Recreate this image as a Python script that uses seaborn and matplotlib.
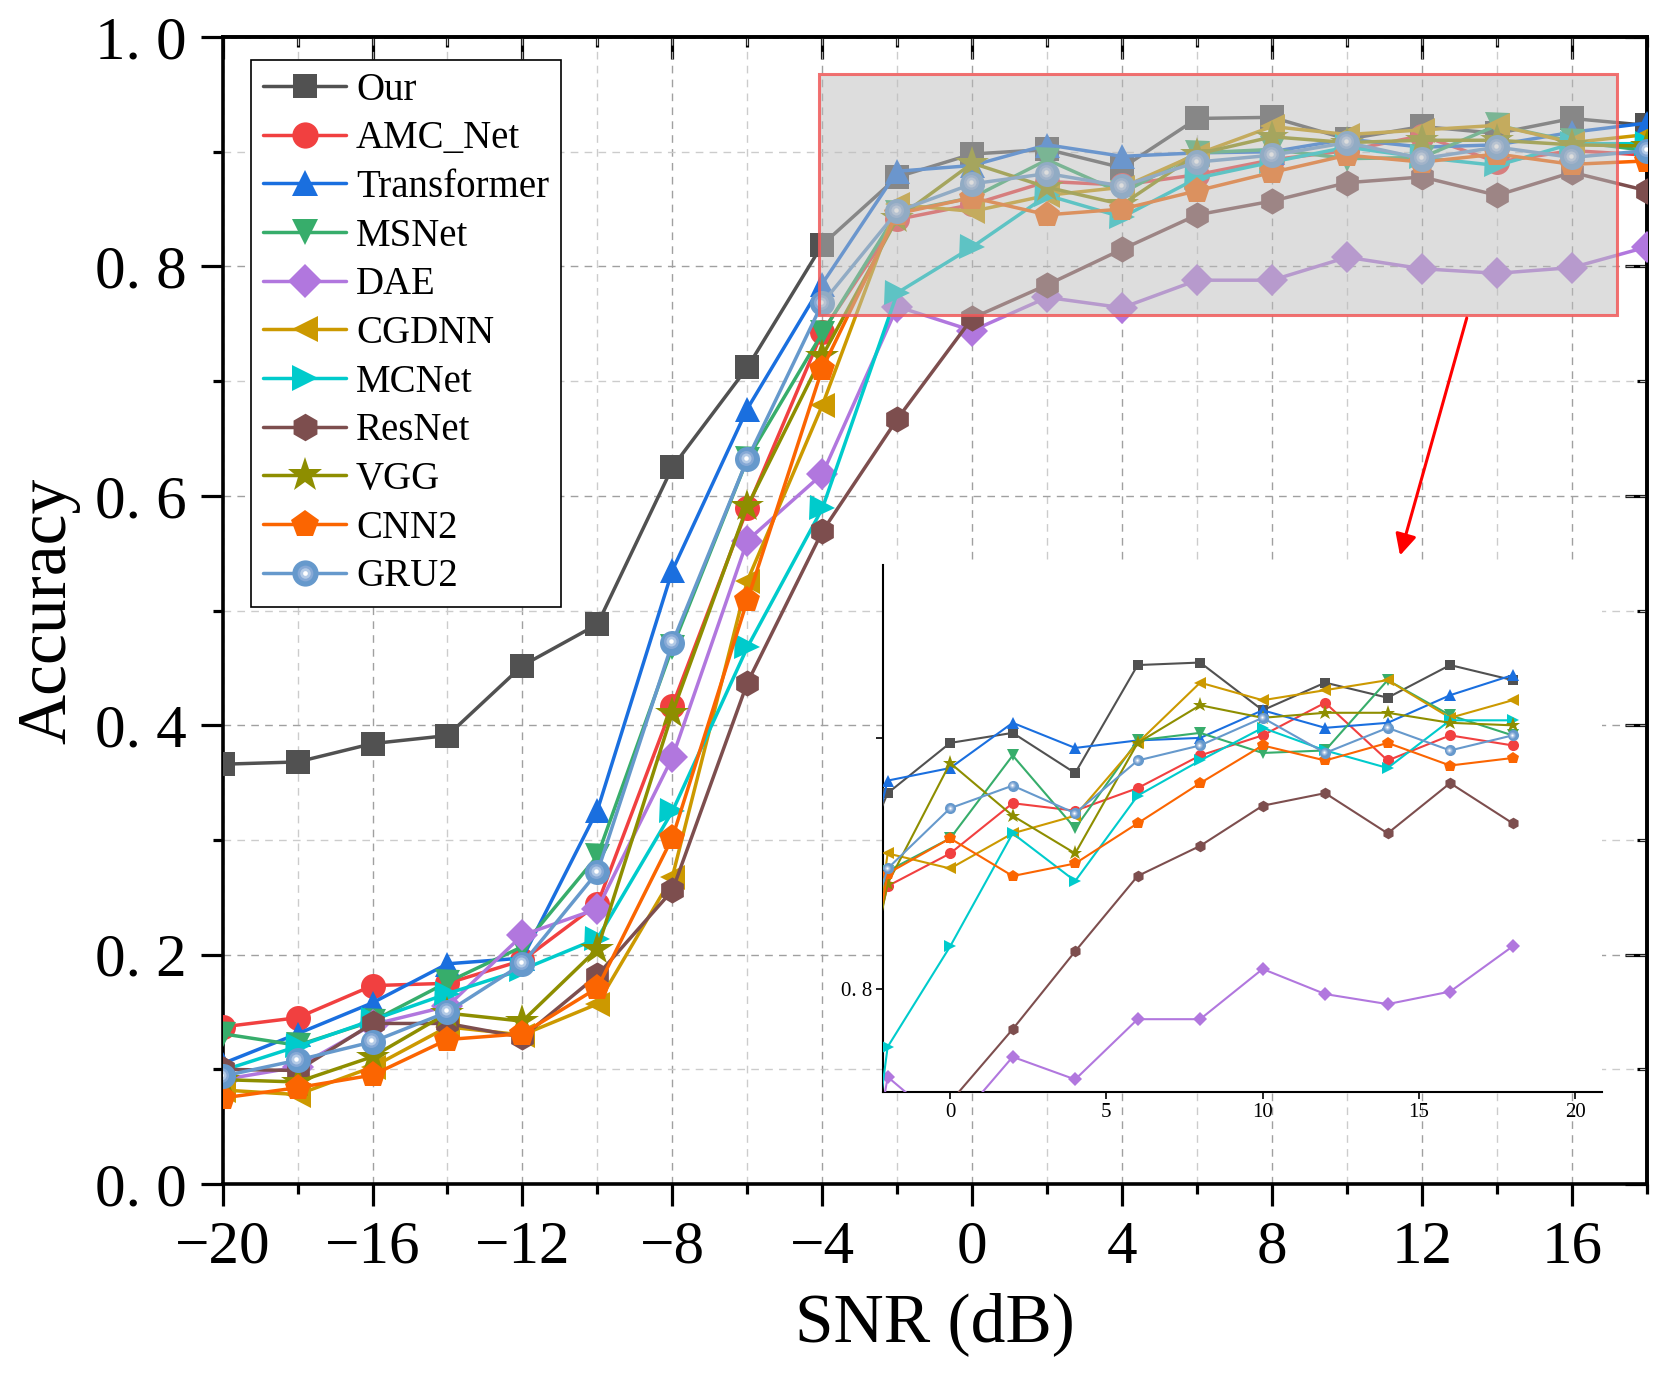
import pandas as pd
import seaborn as sns
import matplotlib.pyplot as plt
import matplotlib.transforms as mtransforms
from matplotlib.lines import Line2D
from matplotlib.patches import Rectangle
from matplotlib.ticker import MultipleLocator

# SNR points (dB)
snr = list(range(-20, 20, 2))

# Accuracy per model
our = [0.366, 0.368, 0.384, 0.391, 0.452, 0.488, 0.625, 0.712, 0.819, 0.878,
       0.898, 0.902, 0.886, 0.929, 0.930, 0.911, 0.922, 0.916, 0.929, 0.923]
amc_net = [0.137, 0.145, 0.173, 0.175, 0.195, 0.244, 0.417, 0.589, 0.743, 0.841,
           0.854, 0.874, 0.871, 0.880, 0.893, 0.901, 0.914, 0.891, 0.901, 0.897]
transformer = [0.105, 0.131, 0.158, 0.192, 0.197, 0.326, 0.535, 0.676, 0.785, 0.883,
               0.888, 0.906, 0.896, 0.899, 0.900, 0.911, 0.904, 0.906, 0.917, 0.925]
msnet = [0.131, 0.121, 0.142, 0.176, 0.207, 0.286, 0.468, 0.632, 0.742, 0.847,
         0.860, 0.893, 0.864, 0.899, 0.902, 0.894, 0.895, 0.923, 0.909, 0.901]
dae = [0.091, 0.102, 0.139, 0.155, 0.217, 0.240, 0.372, 0.561, 0.619, 0.765,
       0.744, 0.773, 0.764, 0.788, 0.788, 0.808, 0.798, 0.794, 0.799, 0.817]
cgdnn = [0.082, 0.078, 0.102, 0.137, 0.130, 0.157, 0.268, 0.526, 0.679, 0.854,
         0.848, 0.862, 0.869, 0.898, 0.922, 0.915, 0.919, 0.923, 0.908, 0.915]
mcnet = [0.099, 0.120, 0.143, 0.166, 0.187, 0.214, 0.325, 0.468, 0.589, 0.777,
         0.817, 0.862, 0.843, 0.877, 0.891, 0.904, 0.895, 0.888, 0.907, 0.907]
resnet = [0.100, 0.099, 0.140, 0.140, 0.128, 0.182, 0.256, 0.437, 0.569, 0.667,
          0.755, 0.784, 0.815, 0.845, 0.857, 0.873, 0.878, 0.862, 0.882, 0.866]
vgg = [0.091, 0.089, 0.111, 0.149, 0.142, 0.205, 0.411, 0.591, 0.722, 0.842,
       0.890, 0.869, 0.854, 0.898, 0.913, 0.908, 0.910, 0.910, 0.906, 0.905]
cnn2 = [0.075, 0.084, 0.095, 0.126, 0.131, 0.171, 0.302, 0.509, 0.711, 0.846,
        0.860, 0.845, 0.850, 0.866, 0.882, 0.897, 0.891, 0.898, 0.889, 0.892]
gru2 = [0.094, 0.108, 0.124, 0.150, 0.192, 0.272, 0.472, 0.632, 0.768, 0.848,
        0.872, 0.881, 0.870, 0.891, 0.897, 0.908, 0.894, 0.904, 0.895, 0.901]

models = ["Our", "AMC_Net", "Transformer", "MSNet", "DAE", "CGDNN",
          "MCNet", "ResNet", "VGG", "CNN2", "GRU2"]
series = [our, amc_net, transformer, msnet, dae, cgdnn, mcnet, resnet, vgg, cnn2, gru2]
colors = ["#515151", "#F14040", "#1A6FDF", "#37AD6B", "#B177DE", "#CC9900",
          "#00CBCC", "#7D4E4E", "#8E8E00", "#FB6501", "#6699CC"]
markers = ["s", "o", "^", "v", "D", "<", ">", "h", "*", "p", "o"]
# relative marker scale (star / pentagon look small in matplotlib)
msize = [0.95, 1.0, 1.0, 1.0, 0.9, 1.0, 1.0, 1.05, 1.4, 1.1, 1.0]

y_ticks = [0.0, 0.2, 0.4, 0.6, 0.8, 1.0]
y_ticklabels = ["0. 0", "0. 2", "0. 4", "0. 6", "0. 8", "1. 0"]
inset_xticks = [0, 5, 10, 15, 20]
inset_yticks = [0.8, 0.9]
inset_yticklabels = ["0. 8", ""]

# long form table for seaborn
df = pd.DataFrame({
    "SNR": snr * len(models),
    "Accuracy": [v for s in series for v in s],
    "Model": [m for m in models for _ in snr],
})

sns.set_style("ticks")
plt.rcParams["font.family"] = ["Liberation Serif", "DejaVu Serif"]
for k in ["text.color", "axes.labelcolor", "xtick.color", "ytick.color", "axes.edgecolor"]:
    plt.rcParams[k] = "black"

fig = plt.figure(figsize=(16.61, 13.92), dpi=100)
ax = fig.add_axes([0.134, 0.1494, 0.8576, 0.824])

# shaded highlight layers that turn the GRU2 dots into little spheres
sphere_layers = [(0.6, "#86A9D6"), (0.4, "#B3CAE6"), (0.18, "#FFFFFF")]


def draw_lines(axis, ms, lw):
    for m, c, mk, sc in zip(models, colors, markers, msize):
        sns.lineplot(data=df[df["Model"] == m], x="SNR", y="Accuracy", color=c,
                     marker=mk, markersize=ms * sc, markeredgewidth=0,
                     linewidth=lw, errorbar=None, legend=False, zorder=3, ax=axis)
    for frac, col in sphere_layers:
        off = mtransforms.offset_copy(axis.transData, fig=fig, x=-ms * 0.06,
                                      y=ms * 0.06, units="points")
        axis.plot(snr, gru2, linestyle="none", marker="o", ms=ms * frac,
                  color=col, markeredgewidth=0, transform=off, zorder=3.1)


ms_main = 18
draw_lines(ax, ms_main, 2.5)

ax.set_xlim(-20, 18)
ax.set_ylim(0, 1.0)
ax.xaxis.set_major_locator(MultipleLocator(4))
ax.xaxis.set_minor_locator(MultipleLocator(2))
ax.set_yticks(y_ticks, labels=y_ticklabels)
ax.yaxis.set_minor_locator(MultipleLocator(0.1))
ax.tick_params(which="major", direction="out", length=16, width=2.3, labelsize=44, pad=10)
ax.tick_params(which="minor", direction="out", length=7, width=2.3)
for sp in ax.spines.values():
    sp.set_linewidth(2.6)

ax.set_axisbelow(True)
ax.grid(which="major", color="#a0a0a0", linestyle=(0, (5.5, 4.5)), linewidth=1.0)
ax.grid(which="minor", color="#cccccc", linestyle=(0, (5.5, 4.5)), linewidth=1.0)

# mirrored top/right ticks pointing inwards
secx = ax.secondary_xaxis("top")
secx.xaxis.set_major_locator(MultipleLocator(4))
secx.xaxis.set_minor_locator(MultipleLocator(2))
secx.tick_params(which="major", direction="in", length=16, width=2.3, labeltop=False)
secx.tick_params(which="minor", direction="in", length=7, width=2.3)
secx.spines["top"].set_linewidth(2.6)
secy = ax.secondary_yaxis("right")
secy.set_yticks(y_ticks)
secy.yaxis.set_minor_locator(MultipleLocator(0.1))
secy.tick_params(which="major", direction="in", length=16, width=2.3, labelright=False)
secy.tick_params(which="minor", direction="in", length=7, width=2.3)
secy.spines["right"].set_linewidth(2.6)

ax.set_xlabel("SNR (dB)", fontsize=50, labelpad=12)
ax.set_ylabel("Accuracy", fontsize=50, labelpad=10)

# zoom region box
box = Rectangle((-4.1, 0.758), 21.3, 0.21, facecolor=(0.74, 0.74, 0.74, 0.5),
                edgecolor=(0.94, 0.35, 0.35, 0.85), linewidth=2.2, zorder=4)
ax.add_patch(box)
ax.annotate("", xy=(11.41, 0.548), xytext=(13.19, 0.755),
            arrowprops=dict(arrowstyle="-|>", color="red", lw=2.2,
                            mutation_scale=32, shrinkA=0, shrinkB=0), zorder=5)

# legend
handles = []
for m, c, mk, sc in zip(models, colors, markers, msize):
    h = Line2D([], [], color=c, marker=mk, ms=ms_main * sc * 1.05, markeredgewidth=0, lw=2.5)
    if m == "GRU2":
        h = tuple([h] + [Line2D([], [], color=col, marker="o", ms=ms_main * 1.05 * frac,
                                markeredgewidth=0, lw=0) for frac, col in sphere_layers])
    handles.append(h)
leg = ax.legend(handles, models, loc="upper left", bbox_to_anchor=(0.020, 0.980),
                borderaxespad=0, fontsize=28, frameon=True, fancybox=False,
                edgecolor="black", framealpha=1, handlelength=2.15,
                labelspacing=0.3, handletextpad=0.25, borderpad=0.3)
leg.get_frame().set_linewidth(1.2)
leg.set_zorder(6)

# inset zoom
axin = fig.add_axes([0.5316, 0.2155, 0.4327, 0.3789])
axin.set_facecolor("white")
draw_lines(axin, 8, 1.5)
axin.set_xlim(-2.15, 20.85)
axin.set_ylim(0.759, 0.969)
axin.set_xticks(inset_xticks)
axin.set_yticks(inset_yticks, labels=inset_yticklabels)
axin.tick_params(direction="out", length=5, width=1.2, labelsize=15, pad=3)
axin.set_xlabel("")
axin.set_ylabel("")
axin.spines["top"].set_visible(False)
axin.spines["right"].set_visible(False)
axin.spines["left"].set_linewidth(1.5)
axin.spines["bottom"].set_linewidth(1.5)

fig.savefig("out.png", dpi=100)
